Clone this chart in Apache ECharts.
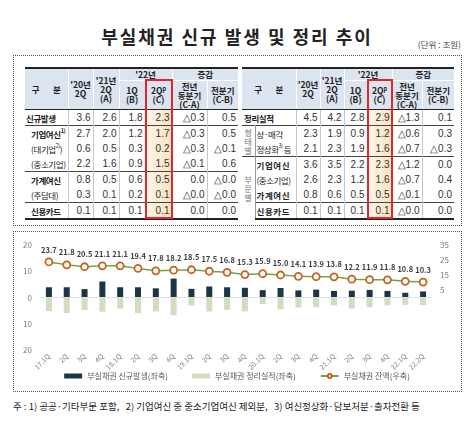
<!DOCTYPE html>
<html>
<head>
<meta charset="utf-8">
<title>부실채권 신규 발생 및 정리 추이</title>
<style>
    body{ margin:0; width:474px; height:421px; background:#fff; position:relative; overflow:hidden;
        font-family:"Noto Sans CJK KR","Noto Sans",sans-serif; color:#222; }
    #title{ position:absolute; left:0; width:474px; top:23px; text-align:center; font-size:18px; font-weight:bold; letter-spacing:2px; }
    #unit{ position:absolute; right:13px; top:38px; font-size:8.5px; color:#444; }
    .dotbox{ position:absolute; border:1.5px dotted #555; box-sizing:border-box; }
    table.tb{ position:absolute; border-collapse:collapse; table-layout:fixed; font-size:10px; }
    table.tb td{ padding:0; height:15px; line-height:12px; white-space:nowrap; overflow:visible; }
    table.tb tr.h td{ background:#dbe4ef; font-weight:bold; font-size:8.5px; line-height:9px; text-align:center;
        border-left:1px solid #fff; color:#222; }
    table.tb tr.h1 td{ height:11px; border-top:2px solid #222; }
    table.tb tr.h2 td{ height:28px; border-top:1px solid #fff; }
    table.tb tr.h td.sep{ border-bottom:1.5px solid #222; }
    table.tb td.n{ text-align:right; padding-right:2px; font-family:"Liberation Sans",sans-serif; color:#333;
        border-left:1px solid #c8c8c8; }
    table.tb td.lb{ padding-left:3px; font-size:8.5px; letter-spacing:-0.4px; }
    table.tb td.b{ font-weight:bold; }
    table.tb td.hl{ background:linear-gradient(to right,#fff6ea,#fbe2c2); }
    table.tb tr.gs td{ border-top:1px solid #444; }
    table.tb tr.last td{ border-bottom:2px solid #222; }
    table.tb td.vt{ font-size:8px; color:#777; text-align:center; line-height:9px; white-space:normal; border-right:1px solid #999; }
    .redbox{ position:absolute; border:2px solid #e2262b; box-sizing:border-box; }
    sup{ font-size:5.5px; vertical-align:top; line-height:6px; }
    #chart{ position:absolute; left:0; top:231px; width:474px; height:160px; }
    #note{ position:absolute; left:13px; top:399px; font-size:9.5px; color:#222; white-space:pre; }
</style>
</head>
<body>
<div id="title">부실채권 신규 발생 및 정리 추이</div>
<div id="unit">(단위 : 조원)</div>
<div class="dotbox" style="left:13px;top:55px;width:449px;height:171px;"></div>
<div id="tblLeft"></div>
<div id="tblRight"></div>
<div class="redbox" style="left:145px;top:79px;width:28px;height:140px;"></div>
<div class="redbox" style="left:367px;top:79px;width:26px;height:140px;"></div>
<div class="dotbox" style="left:13px;top:231px;width:449px;height:161px;"></div>
<div id="chart"></div>
<div id="note">주 : 1) 공공·기타부문 포함,   2) 기업여신 중 중소기업여신 제외분,   3) 여신정상화·담보처분·출자전환 등</div>

<script src="https://cdn.jsdelivr.net/npm/echarts/dist/echarts.min.js"></script>
<script>
    // 표 데이터
    var leftLabels = ['신규발생','기업여신<sup>1)</sup>','(대기업<sup>2)</sup>)','(중소기업)','가계여신','(주담대)','신용카드'];
    var leftBold   = [true,true,false,false,true,false,true];
    var leftRows = [
        ['3.6','2.6','1.8','2.3','△0.3','0.5'],
        ['2.7','2.0','1.2','1.7','△0.3','0.5'],
        ['0.6','0.5','0.3','0.2','△0.3','△0.1'],
        ['2.2','1.6','0.9','1.5','△0.1','0.6'],
        ['0.8','0.5','0.6','0.5','0.0','△0.0'],
        ['0.3','0.1','0.2','0.1','△0.0','△0.0'],
        ['0.1','0.1','0.1','0.1','0.0','0.0']
    ];
    var rightLabels = ['정리실적','상·매각','정상화<sup>3)</sup> 등','기업여신','(중소기업)','가계여신','신용카드'];
    var rightBold   = [true,false,false,true,false,true,true];
    var rightRows = [
        ['4.5','4.2','2.8','2.9','△1.3','0.1'],
        ['2.3','1.9','0.9','1.2','△0.6','0.3'],
        ['2.1','2.3','1.9','1.6','△0.7','△0.3'],
        ['3.6','3.5','2.2','2.3','△1.2','0.0'],
        ['2.6','2.3','1.2','1.6','△0.7','0.4'],
        ['0.8','0.6','0.5','0.5','△0.1','0.0'],
        ['0.1','0.1','0.1','0.1','△0.0','0.0']
    ];

    // 차트 데이터
    var quarters = ['17.1Q','2Q','3Q','4Q','18.1Q','2Q','3Q','4Q','19.1Q','2Q','3Q','4Q','20.1Q','2Q','3Q','4Q','21.1Q','2Q','3Q','4Q','22.1Q','22.2Q'];
    var newNpl      = [3.9,3.9,3.2,6.1,3.9,3.9,3.5,7.2,3.3,4.2,3.9,3.7,2.8,3.6,2.7,3.0,2.5,2.6,2.9,2.5,1.8,2.3];
    var resolvedNpl = [5.2,5.9,4.8,5.4,4.2,5.9,5.3,6.8,3.0,5.3,4.7,5.3,2.5,4.5,3.8,3.7,3.0,4.2,3.7,3.0,2.8,2.9];
    var balance     = [23.7,21.8,20.5,21.1,21.1,19.4,17.8,18.2,18.5,17.5,16.8,15.3,15.9,15.0,14.1,13.9,13.8,12.2,11.9,11.8,10.8,10.3];
    var leftTicks  = {min:-20, max:20, interval:10};
    var rightTicks = {min:-35, max:35, interval:10};

    function headRows(labelCols){
        return '<tr class="h h1"><td class="sep" colspan="'+labelCols+'" rowspan="2" style="border-left:none">구&nbsp;&nbsp;&nbsp;&nbsp;&nbsp;&nbsp;&nbsp;분</td>'
            +'<td class="sep" rowspan="2">\'20년<br>2Q</td>'
            +'<td class="sep" rowspan="2">\'21년<br>2Q<br>(A)</td>'
            +'<td colspan="2">\'22년</td><td colspan="2">증감</td></tr>'
            +'<tr class="h h2"><td class="sep">1Q<br>(B)</td><td class="sep">2Q<sup>p</sup><br>(C)</td>'
            +'<td class="sep">전년<br>동분기<br>(C-A)</td><td class="sep">전분기<br>(C-B)</td></tr>';
    }

    function numCells(row){
        var s = '';
        for (var i = 0; i < row.length; i++) {
            s += '<td class="n' + (i == 3 ? ' hl' : '') + '">' + row[i] + '</td>';
        }
        return s;
    }

    function buildLeft(){
        var html = '<table class="tb" style="left:25px;top:67px;width:213px">'
            +'<colgroup><col style="width:43px"><col style="width:25px"><col style="width:26px"><col style="width:26px"><col style="width:27px"><col style="width:35px"><col style="width:31px"></colgroup>';
        html += headRows(1);
        var groupStart = {1:true, 4:true, 6:true};
        for (var r = 0; r < leftRows.length; r++) {
            var cls = (groupStart[r] ? 'gs' : '') + (r == leftRows.length-1 ? ' last' : '');
            var pad = r == 0 ? 1 : 6;
            html += '<tr class="'+cls+'"><td class="lb'+(leftBold[r]?' b':'')+'" style="padding-left:'+pad+'px">'+leftLabels[r]+'</td>'+numCells(leftRows[r])+'</tr>';
        }
        html += '</table>';
        document.getElementById('tblLeft').innerHTML = html;
    }

    function buildRight(){
        var html = '<table class="tb" style="left:242px;top:67px;width:212px">'
            +'<colgroup><col style="width:13px"><col style="width:41px"><col style="width:24px"><col style="width:24px"><col style="width:23px"><col style="width:25px"><col style="width:30px"><col style="width:32px"></colgroup>';
        html += headRows(2);
        for (var r = 0; r < rightRows.length; r++) {
            var cls = '';
            if (r == 1 || r == 3 || r == 6) cls = 'gs';
            if (r == rightRows.length-1) cls += ' last';
            var lead = '';
            if (r == 0) lead = '<td class="lb b" colspan="2" style="padding-left:2px">'+rightLabels[r]+'</td>';
            else {
                if (r == 1) lead += '<td class="vt" rowspan="2">형<br>태<br>별</td>';
                if (r == 3) lead += '<td class="vt" rowspan="4">부<br>문<br>별</td>';
                lead += '<td class="lb'+(rightBold[r]?' b':'')+'" style="padding-left:1px;letter-spacing:'+(rightBold[r]?'0.6px':'-0.5px')+'">'+rightLabels[r]+'</td>';
            }
            html += '<tr class="'+cls+'">'+lead+numCells(rightRows[r])+'</tr>';
        }
        html += '</table>';
        document.getElementById('tblRight').innerHTML = html;
    }

    buildLeft();
    buildRight();

    var myChart = echarts.init(document.getElementById('chart'));
    var axisGray = '#7f7f7f';
    var option = {
        animation: false,
        textStyle: {fontFamily: '"Noto Sans CJK KR", sans-serif'},
        grid: {left: 40, right: 42, top: 14, bottom: 41},
        legend: {
            bottom: 6,
            left: 'center',
            itemGap: 24,
            itemWidth: 18,
            itemHeight: 5,
            textStyle: {fontSize: 8, color: '#595959'},
            data: [
                {name: '부실채권 신규발생(좌축)', icon: 'rect'},
                {name: '부실채권 정리실적(좌축)', icon: 'rect'},
                {name: '부실채권 잔액(우축)'}
            ]
        },
        xAxis: {
            type: 'category',
            data: quarters,
            axisLine: {show: false},
            axisTick: {show: false},
            axisLabel: {interval: 0, rotate: 45, fontSize: 7, color: axisGray, margin: 5}
        },
        yAxis: [
            {
                type: 'value', min: leftTicks.min, max: leftTicks.max, interval: leftTicks.interval,
                splitLine: {show: false}, axisLine: {show: false}, axisTick: {show: false},
                axisLabel: {fontSize: 8, color: axisGray, margin: 8, formatter: function (v) { return Math.abs(v); }}
            },
            {
                type: 'value', min: rightTicks.min, max: rightTicks.max, interval: rightTicks.interval,
                splitLine: {show: false}, axisLine: {show: false}, axisTick: {show: false},
                axisLabel: {fontSize: 8, color: axisGray, margin: 8, formatter: function (v) { return v > 0 ? v : ''; }}
            }
        ],
        series: [
            {
                name: '부실채권 신규발생(좌축)', type: 'bar', stack: 'npl', barWidth: 6,
                itemStyle: {color: '#1b3446'},
                data: newNpl,
                markLine: {
                    silent: true, symbol: 'none', label: {show: false},
                    lineStyle: {color: '#dde2ea', width: 1.2, type: 'solid'},
                    data: [{yAxis: 0}]
                }
            },
            {
                name: '부실채권 정리실적(좌축)', type: 'bar', stack: 'npl', barWidth: 6,
                itemStyle: {color: '#d3dbc0'},
                data: resolvedNpl.map(function (v) { return -v; })
            },
            {
                name: '부실채권 잔액(우축)', type: 'line', yAxisIndex: 1,
                symbol: 'circle', symbolSize: 7,
                lineStyle: {color: '#6ea648', width: 1.5},
                itemStyle: {color: '#fff', borderColor: '#c8621c', borderWidth: 1.8},
                label: {show: true, position: 'top', fontSize: 7.5, fontWeight: 'bold', color: '#404040', distance: 4,
                    formatter: function (p) { return p.value.toFixed(1); }},
                data: balance,
                z: 5
            }
        ]
    };
    option && myChart.setOption(option);
</script>
</body>
</html>
